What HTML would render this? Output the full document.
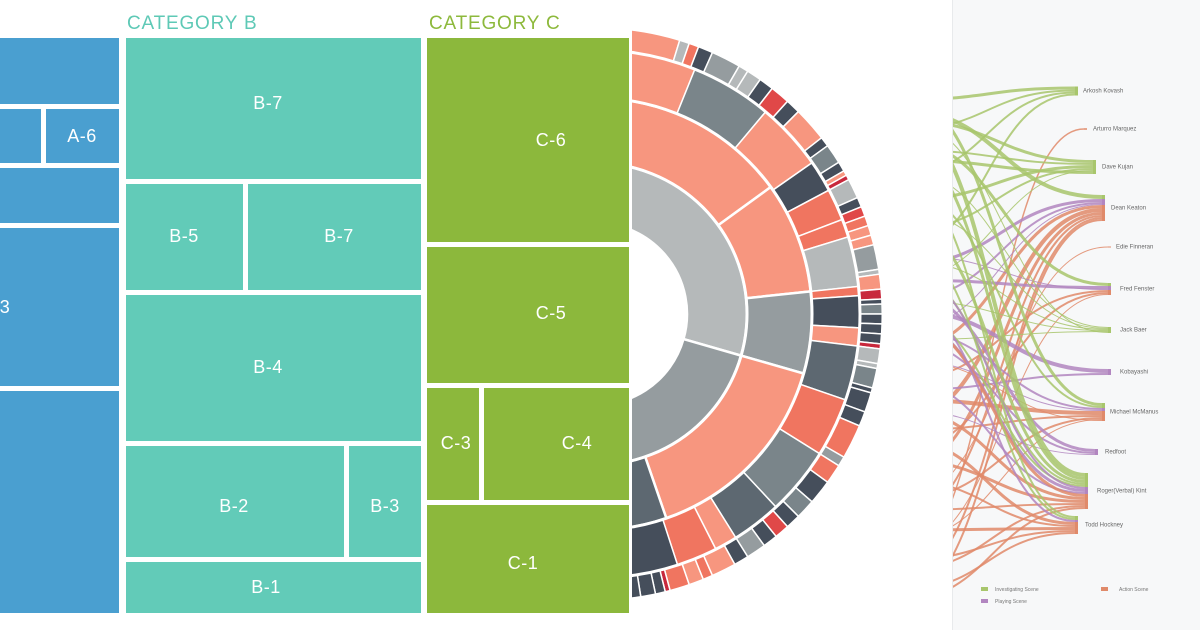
<!DOCTYPE html>
<html><head><meta charset="utf-8"><style>
html,body{margin:0;padding:0;background:#fff;}
svg{display:block;font-family:"Liberation Sans",sans-serif;}
.tl{fill:#fff;font-size:18px;font-weight:normal;text-anchor:middle;dominant-baseline:middle;letter-spacing:0.5px}
.nl{fill:#666;font-size:6px;dominant-baseline:middle}
</style></head><body>
<svg id="root" width="1200" height="630" viewBox="0 0 1200 630">
<g>
 <text x="127" y="29" fill="#5ec9b6" font-size="19" letter-spacing="0.8">CATEGORY B</text>
 <text x="429" y="29" fill="#8db93c" font-size="19" letter-spacing="0.8">CATEGORY C</text>
 <g fill="#4a9fd0">
  <rect x="0" y="38" width="119" height="66"/>
  <rect x="0" y="109" width="41" height="54"/>
  <rect x="46" y="109" width="73" height="54"/>
  <rect x="0" y="168" width="119" height="55"/>
  <rect x="0" y="228" width="119" height="158"/>
  <rect x="0" y="391" width="119" height="222"/>
 </g>
 <g fill="#62cbb8">
  <rect x="126" y="38" width="295" height="141"/>
  <rect x="126" y="184" width="117" height="106"/>
  <rect x="248" y="184" width="173" height="106"/>
  <rect x="126" y="295" width="295" height="146"/>
  <rect x="126" y="446" width="218" height="111"/>
  <rect x="349" y="446" width="72" height="111"/>
  <rect x="126" y="562" width="295" height="51"/>
 </g>
 <g fill="#8cb83c">
  <rect x="427" y="38" width="202" height="204"/>
  <rect x="427" y="247" width="202" height="136"/>
  <rect x="427" y="388" width="52" height="112"/>
  <rect x="484" y="388" width="145" height="112"/>
  <rect x="427" y="505" width="202" height="108"/>
 </g>
 <text class="tl" x="82" y="137">A-6</text>
 <text class="tl" x="5" y="308">3</text>
 <text class="tl" x="268" y="104">B-7</text>
 <text class="tl" x="184" y="237">B-5</text>
 <text class="tl" x="339" y="237">B-7</text>
 <text class="tl" x="268" y="368">B-4</text>
 <text class="tl" x="234" y="507">B-2</text>
 <text class="tl" x="385" y="507">B-3</text>
 <text class="tl" x="266" y="588">B-1</text>
 <text class="tl" x="551" y="141">C-6</text>
 <text class="tl" x="551" y="314">C-5</text>
 <text class="tl" x="456" y="444">C-3</text>
 <text class="tl" x="577" y="444">C-4</text>
 <text class="tl" x="523" y="564">C-1</text>
</g>
<defs><clipPath id="sbclip"><rect x="632" y="0" width="320" height="630"/></clipPath></defs>
<g id="sunburst" clip-path="url(#sbclip)"></g>
<rect x="952" y="0" width="248" height="630" fill="#f7f8f9"/>
<line x1="952.5" y1="0" x2="952.5" y2="630" stroke="#e8eaec"/>
<defs><clipPath id="skclip"><rect x="953" y="0" width="247" height="630"/></clipPath></defs>
<g id="sankey" clip-path="url(#skclip)"></g>
<g id="sknodes"></g>
<g>
 <rect x="981" y="587" width="7" height="4" fill="#a8c66c"/>
 <text x="995" y="591" font-size="5" fill="#777">Investigating Scene</text>
 <rect x="981" y="599" width="7" height="4" fill="#b286c0"/>
 <text x="995" y="603" font-size="5" fill="#777">Playing Scene</text>
 <rect x="1101" y="587" width="7" height="4" fill="#e08a6a"/>
 <text x="1119" y="591" font-size="5" fill="#777">Action Scene</text>
</g>
</svg>
<script>
// ---------- Sunburst data ----------
const sbPalette = ["#f7967f","#f07560","#e04848","#c8283c","#b5b9ba","#959c9f","#7a858a","#5d6871","#454e5b"];
const ring1Spans = [116,164];
const ring1Colors = [4,5];
const ring2Spans = [64,30,22,55,30];
const ring2Colors = [0,0,5,0,7];
const ring3Spans = [32,18,15,7,7,4,11,2,7,4,12,13,15,11,5,9,18];
const ring3Colors = [0,6,0,8,1,1,4,1,8,0,7,1,6,7,0,1,8];
const ring4Spans = [14,3,10,2,2,3,6,2,3,3,4,3,7,2,4,2,1,1,4,2,2,2,2,2,5,1,3,2,1,2,2,2,2,1,3,1,4,1,4,3,7,2,4,5,4,3,3,3,4,3,5,2,3,4,1,2,3,3,4,4];
const ring4Colors = [0,1,0,4,1,8,5,4,4,8,2,8,0,8,6,8,0,3,4,8,2,1,0,0,5,4,0,3,8,6,8,8,8,3,4,4,6,8,8,8,1,5,1,8,6,8,2,8,5,8,0,1,0,1,3,8,8,8,8,8];
const ringRadii = [[91,151],[151,216],[216,264],[264,287]];
const cx=596, cy=314, startAngle=-10;
const NS="http://www.w3.org/2000/svg";
function pt(r,a){const t=a*Math.PI/180;return [cx+r*Math.sin(t), cy-r*Math.cos(t)];}
function arcPath(r0,r1,a0,a1){
  const [x0,y0]=pt(r1,a0),[x1,y1]=pt(r1,a1),[x2,y2]=pt(r0,a1),[x3,y3]=pt(r0,a0);
  const lg=(a1-a0)>180?1:0;
  return `M${x0},${y0}A${r1},${r1} 0 ${lg} 1 ${x1},${y1}L${x2},${y2}A${r0},${r0} 0 ${lg} 0 ${x3},${y3}Z`;
}
const sb=document.getElementById('sunburst');
[[ring1Spans,ring1Colors],[ring2Spans,ring2Colors],[ring3Spans,ring3Colors],[ring4Spans,ring4Colors]].forEach((ring,ri)=>{
  let a=startAngle;
  ring[0].forEach((s,i)=>{
    const p=document.createElementNS(NS,'path');
    p.setAttribute('d',arcPath(ringRadii[ri][0],ringRadii[ri][1],a,a+s));
    p.setAttribute('fill',sbPalette[ring[1][i]]);
    p.setAttribute('stroke','#fff');
    p.setAttribute('stroke-width', ri<2?2.5:1.5);
    
    
    sb.appendChild(p);
    a+=s;
  });
});
ringRadii.forEach(r=>{
  const c=document.createElementNS(NS,'circle');
  c.setAttribute('cx',cx);c.setAttribute('cy',cy);c.setAttribute('r',r[1]);
  c.setAttribute('fill','none');c.setAttribute('stroke','#fff');c.setAttribute('stroke-width',3);
  
  
  sb.appendChild(c);
});

// ---------- Sankey data ----------
const skColors = ["#a8c66c","#b286c0","#e08a6a"];
const nodeNames = ["Arkosh Kovash","Arturro Marquez","Dave Kujan","Dean Keaton","Edie Finneran","Fred Fenster","Jack Baer","Kobayashi","Michael McManus","Redfoot","Roger(Verbal) Kint","Todd Hockney"];
const nodeCenters = [91,129,167,208,247,289,330,372,412,452,491,525];
const nodeX = [1075,1084,1093,1102,1108,1108,1108,1108,1102,1095,1085,1075];
const labelX = [1083,1093,1102,1111,1116,1120,1120,1120,1110,1105,1097,1085];
const linkSource = [100,130,175,250, 560, 120,150,200,230,280,160, 110,265,300,330,350,420,470,520,580,600, 500, 140,280,255,380,450,550, 170,210,260,300,340,120, 310,390, 95,190,330,360,400,430,500,540,360, 290,340,410, 115,145,220,270,310,270,320,380,320,410,460,510,570,600, 180,240,300,440,480,530,560,590];
const linkTarget = [0,0,0,0, 1, 2,2,2,2,2,2, 3,3,3,3,3,3,3,3,3,3, 4, 5,5,5,5,5,5, 6,6,6,6,6,6, 7,7, 8,8,8,8,8,8,8,8,8, 9,9,9, 10,10,10,10,10,10,10,10,10,10,10,10,10,10, 11,11,11,11,11,11,11,11];
const linkWidth = [3,2,2,2, 1.5, 3,2,3,2,1,3, 4,3,2,1,3,4,3,2,2,2, 1, 3,3,1,2,2,1, 1,1,1,1,1,1, 4,2, 3,2,2,1,4,2,2,1,1, 3,2,1, 4,3,3,2,2,2,3,2,3,3,3,2,2,2, 2,2,2,3,2,3,2,2];
const linkColor = [0,0,0,0, 2, 0,0,0,0,0,0, 0,1,1,1,2,2,2,2,2,2, 2, 0,1,1,2,2,2, 0,0,0,0,0,0, 1,1, 0,0,1,1,2,2,2,2,2, 1,1,1, 0,0,0,0,0,1,1,1,2,2,2,2,2,2, 0,0,1,2,2,2,2,2];

const sk=document.getElementById('sankey'), skn=document.getElementById('sknodes');
const totals=nodeNames.map((_,n)=>linkTarget.reduce((s,t,i)=>s+(t===n?linkWidth[i]:0),0));
const offs=nodeNames.map(()=>0);
linkSource.forEach((sy,i)=>{
  const n=linkTarget[i], w=linkWidth[i];
  const top=nodeCenters[n]-totals[n]/2;
  const ty=top+offs[n]+w/2; offs[n]+=w;
  const x0=900, x1=nodeX[n], mx=(x0+x1)/2;
  const p=document.createElementNS(NS,'path');
  p.setAttribute('d',`M${x0},${sy}C${mx},${sy} ${mx},${ty} ${x1},${ty}`);
  p.setAttribute('fill','none');
  p.setAttribute('stroke',skColors[linkColor[i]]);
  p.setAttribute('stroke-width',w);
  p.setAttribute('stroke-opacity',0.85);
  
  
  sk.appendChild(p);
  const r=document.createElementNS(NS,'rect');
  r.setAttribute('x',x1);r.setAttribute('y',ty-w/2);r.setAttribute('width',3);r.setAttribute('height',w);
  r.setAttribute('fill',skColors[linkColor[i]]);
  
  
  skn.appendChild(r);
});
nodeNames.forEach((nm,n)=>{
  const t=document.createElementNS(NS,'text');
  t.setAttribute('x',labelX[n]);t.setAttribute('y',nodeCenters[n]);
  t.setAttribute('class','nl');
  t.textContent=nm;
  
  
  skn.appendChild(t);
});
</script>
</body></html>
